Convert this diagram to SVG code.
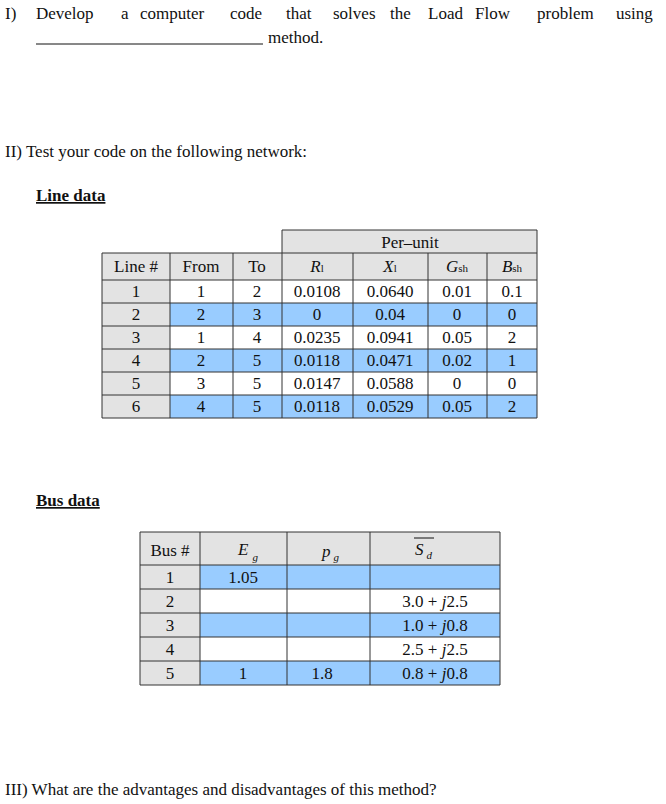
<svg xmlns="http://www.w3.org/2000/svg" width="666" height="804" viewBox="0 0 666 804">
<style>
text{font-family:"Liberation Serif","Times New Roman",serif;font-size:17px;fill:#111}
.c{text-anchor:middle}
.g{fill:#e3e3e3}
.b{fill:#99ccff}
.w{fill:#fff}
.ln{stroke:#333;stroke-width:1;fill:none}
.h{font-weight:bold;text-decoration:underline}
.s{font-size:11px}
</style>
<rect width="666" height="804" fill="#fff"/>
<g id="text">
<text x="5" y="19">I)</text><text x="36" y="19">Develop</text><text x="121" y="19">a</text><text x="140" y="19">computer</text><text x="230" y="19">code</text><text x="286" y="19">that</text><text x="333" y="19">solves</text><text x="390" y="19">the</text><text x="428" y="19">Load</text><text x="475" y="19">Flow</text><text x="537" y="19">problem</text><text x="616" y="19">using</text>
<line x1="36" y1="44" x2="263" y2="44" stroke="#111" stroke-width="1"/>
<text x="268" y="43">method.</text>
<text x="5" y="157">II)  Test your code on the following network:</text>
<text x="36" y="201" class="h">Line data</text>
<text x="36" y="506" class="h">Bus data</text>
<text x="5" y="795">III) What are the advantages and disadvantages of this method?</text>
</g>
<g id="line-table">
<rect x="282" y="230" width="255" height="23" class="g"/>
<rect x="102" y="253" width="435" height="27" class="g"/>
<rect x="102" y="280" width="68" height="138" class="g"/>
<rect x="170" y="303" width="367" height="23" class="b"/>
<rect x="170" y="349" width="367" height="23" class="b"/>
<rect x="170" y="395" width="367" height="23" class="b"/>
<path class="ln" d="M282 230H537V418H102V253H537M102 280H537M102 303H537M102 326H537M102 349H537M102 372H537M102 395H537M170 253V418M233 253V418M282 230V418M353 253V418M428 253V418M487 253V418"/>
<text x="241" y="248" class="c" transform="translate(169 0)">Per–unit</text>
<text x="136" y="272" class="c">Line #</text><text x="201" y="272" class="c">From</text><text x="257" y="272" class="c">To</text>
<text x="317" y="272" class="c" font-style="italic">R<tspan class="s" font-style="normal">l</tspan></text>
<text x="390" y="272" class="c" font-style="italic">X<tspan class="s" font-style="normal">l</tspan></text>
<text x="457" y="272" class="c" font-style="italic">G<tspan class="s" font-style="normal">sh</tspan></text>
<text x="512" y="272" class="c" font-style="italic">B<tspan class="s" font-style="normal">sh</tspan></text>
<g class="c">
<text x="136" y="297" class="c">1</text><text x="201" y="297" class="c">1</text><text x="257" y="297" class="c">2</text><text x="317" y="297" class="c">0.0108</text><text x="390" y="297" class="c">0.0640</text><text x="457" y="297" class="c">0.01</text><text x="512" y="297" class="c">0.1</text>
<text x="136" y="320" class="c">2</text><text x="201" y="320" class="c">2</text><text x="257" y="320" class="c">3</text><text x="317" y="320" class="c">0</text><text x="390" y="320" class="c">0.04</text><text x="457" y="320" class="c">0</text><text x="512" y="320" class="c">0</text>
<text x="136" y="343" class="c">3</text><text x="201" y="343" class="c">1</text><text x="257" y="343" class="c">4</text><text x="317" y="343" class="c">0.0235</text><text x="390" y="343" class="c">0.0941</text><text x="457" y="343" class="c">0.05</text><text x="512" y="343" class="c">2</text>
<text x="136" y="366" class="c">4</text><text x="201" y="366" class="c">2</text><text x="257" y="366" class="c">5</text><text x="317" y="366" class="c">0.0118</text><text x="390" y="366" class="c">0.0471</text><text x="457" y="366" class="c">0.02</text><text x="512" y="366" class="c">1</text>
<text x="136" y="389" class="c">5</text><text x="201" y="389" class="c">3</text><text x="257" y="389" class="c">5</text><text x="317" y="389" class="c">0.0147</text><text x="390" y="389" class="c">0.0588</text><text x="457" y="389" class="c">0</text><text x="512" y="389" class="c">0</text>
<text x="136" y="412" class="c">6</text><text x="201" y="412" class="c">4</text><text x="257" y="412" class="c">5</text><text x="317" y="412" class="c">0.0118</text><text x="390" y="412" class="c">0.0529</text><text x="457" y="412" class="c">0.05</text><text x="512" y="412" class="c">2</text>
</g>
</g>
<g id="bus-table">
<rect x="140" y="532" width="360" height="33" class="g"/>
<rect x="140" y="565" width="60" height="120" class="g"/>
<rect x="200" y="565" width="300" height="24" class="b"/>
<rect x="200" y="613" width="300" height="24" class="b"/>
<rect x="200" y="661" width="300" height="24" class="b"/>
<path class="ln" d="M140 532H500V685H140ZM140 565H500M140 589H500M140 613H500M140 637H500M140 661H500M200 532V685M287 532V685M370 532V685"/>
<text x="170" y="556" class="c">Bus #</text>
<text x="238" y="555" font-style="italic">E<tspan class="s" dx="4" dy="6">g</tspan></text>
<text x="322" y="557" font-style="italic">p<tspan class="s" dx="3" dy="4">g</tspan></text>
<line x1="414" y1="538" x2="434" y2="538" stroke="#111"/>
<text x="415" y="555" font-style="italic">S<tspan class="s" dx="3" dy="4">d</tspan></text>
<text x="170" y="583" class="c">1</text><text x="243" y="583" class="c">1.05</text>
<text x="170" y="607" class="c">2</text><text x="435" y="607" class="c">3.0 + <tspan font-style="italic">j</tspan>2.5</text>
<text x="170" y="631" class="c">3</text><text x="435" y="631" class="c">1.0 + <tspan font-style="italic">j</tspan>0.8</text>
<text x="170" y="655" class="c">4</text><text x="435" y="655" class="c">2.5 + <tspan font-style="italic">j</tspan>2.5</text>
<text x="170" y="679" class="c">5</text><text x="243" y="679" class="c">1</text><text x="322" y="679" class="c">1.8</text><text x="435" y="679" class="c">0.8 + <tspan font-style="italic">j</tspan>0.8</text>
</g>
</svg>
